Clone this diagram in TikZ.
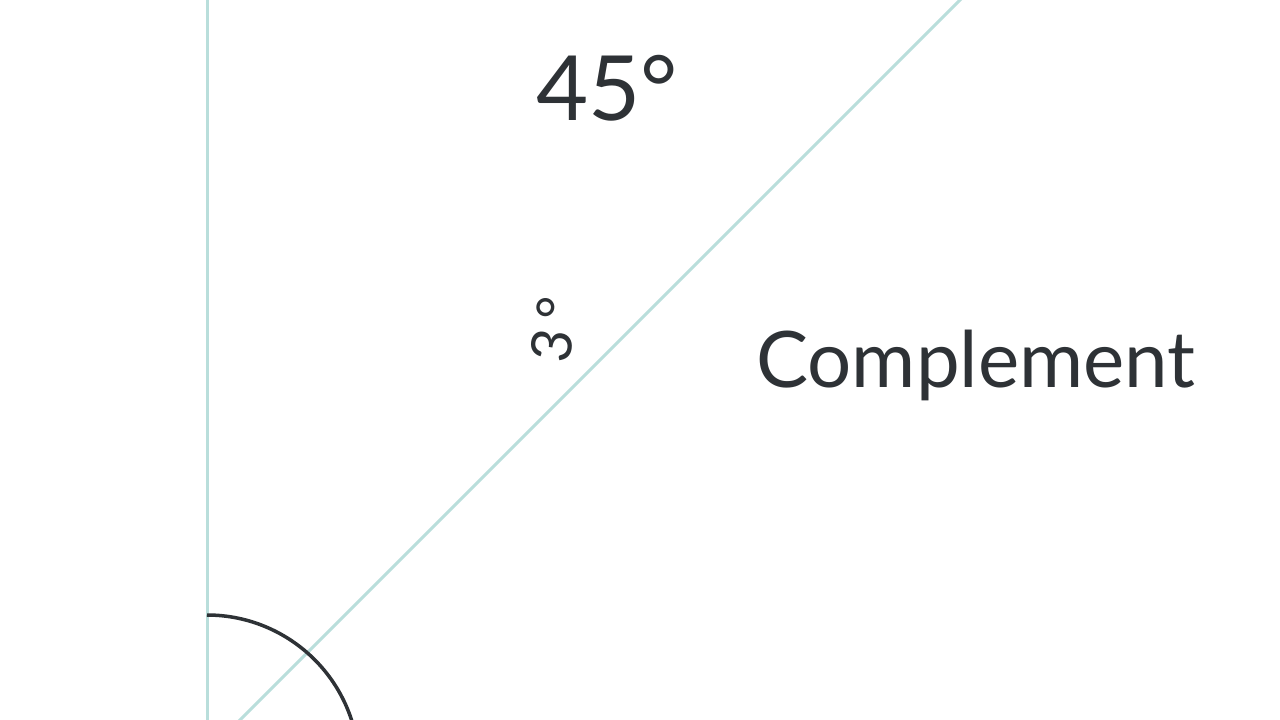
\documentclass[tikz,border=0pt]{standalone}
\usepackage{fontspec}
\setmainfont{Lato}
\definecolor{teal1}{HTML}{B9DEDB}
\definecolor{ink}{HTML}{2E3236}
\begin{document}
\begin{tikzpicture}[x=1pt,y=-1pt,
  guide/.style={draw=teal1,line width=3pt},
  arcline/.style={draw=ink,line width=3.5pt},
  lbl/.style={text=ink,inner sep=0pt}]
\useasboundingbox[fill=white] (0,0) rectangle (1280,720);
\coordinate (vtop) at (207,-5);
\coordinate (vbot) at (207,725);
\coordinate (dbot) at (235,725);
\coordinate (dtop) at (965,-5);
\draw[guide] (vtop) -- (vbot);
\draw[guide] (dbot) -- (dtop);
\coordinate (ctr) at (207,767);
\coordinate (arcstart) at (207,615);
\draw[arcline] (arcstart) arc[start angle=-90,end angle=-15,radius=152];
\node[lbl,font=\fontsize{90}{90}\selectfont] (a) at (607,88) {45°};
\node[lbl,font=\fontsize{56}{56}\selectfont,rotate=82] (b) at (554,330) {3\,°};
\node[lbl,font=\fontsize{78}{78}\selectfont] (c) at (976,365) {Complement};
\end{tikzpicture}
\end{document}
